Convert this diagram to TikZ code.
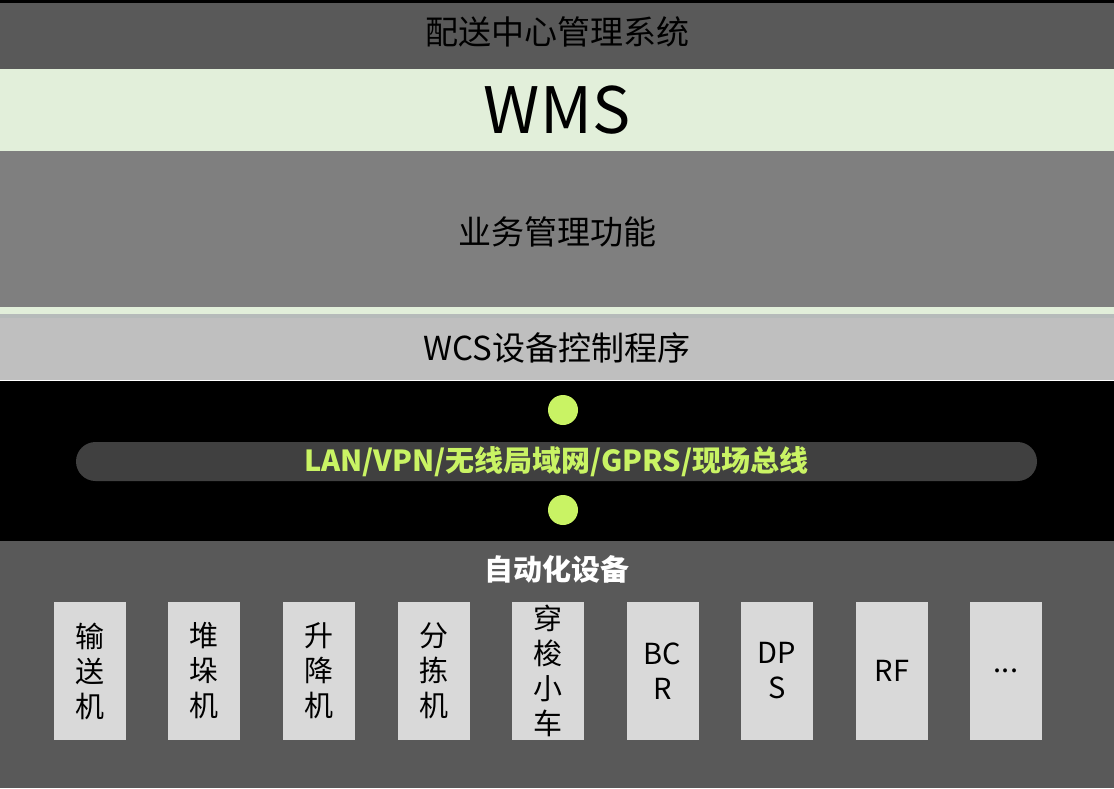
\documentclass[tikz,border=0pt]{standalone}
\usepackage{fontspec}
\setmainfont{Noto Sans CJK SC}
\usetikzlibrary{positioning}

\definecolor{darkband}{HTML}{595959}
\definecolor{wmsgreen}{HTML}{E2EFDA}
\definecolor{midband}{HTML}{7F7F7F}
\definecolor{seamgray}{HTML}{B6BBBA}
\definecolor{wcsgray}{HTML}{BFBFBF}
\definecolor{busgray}{HTML}{404040}
\definecolor{limegreen}{HTML}{C9F364}
\definecolor{boxgray}{HTML}{D9D9D9}

\tikzset{
  layertext/.style={font=\fontsize{33}{40}\selectfont, inner sep=0},
  device/.style={fill=boxgray, minimum width=72pt, minimum height=138pt, inner sep=0,
    align=center, font=\fontsize{29}{35}\selectfont},
  busdot/.style={circle, fill=limegreen, minimum size=30pt, inner sep=0},
}

\begin{document}
\begin{tikzpicture}[x=1pt,y=-1pt]
 \useasboundingbox (0,0) rectangle (1114,788);
 \fill[black] (0,0) rectangle (1114,788);

    % draw layers
    \fill[darkband] (0,3) rectangle (1114,69);
    \fill[wmsgreen] (0,69) rectangle (1114,151);
    \fill[midband] (0,151) rectangle (1114,307);
    \fill[wmsgreen] (0,307) rectangle (1114,314);
    \fill[seamgray] (0,314) rectangle (1114,318);
    \fill[wcsgray] (0,318) rectangle (1114,380);
    \fill[white] (0,380) rectangle (1114,381);
    \fill[darkband] (0,541) rectangle (1114,788);

    \node[layertext] (dcms) at (557,32) {配送中心管理系统};
    \node[layertext, font=\fontsize{64}{72}\selectfont] (wms) at (557,110) {WMS};
    \node[layertext] (business) at (557,232) {业务管理功能};
    \node[layertext] (wcs) at (557,348) {WCS设备控制程序};

    % draw network bus
    \node[busdot] (dotup) at (563,410) {};
    \node[fill=busgray, rounded corners=19.5pt, minimum width=961pt, minimum height=39pt,
      inner sep=0, text=limegreen, font=\bfseries\fontsize{29}{32}\selectfont]
      (bus) at (556.5,461.5) {LAN/VPN/无线局域网/GPRS/现场总线};
    \node[busdot] (dotdown) at (563,510) {};

    % draw devices
    \node[white, inner sep=0, font=\bfseries\fontsize{29}{34}\selectfont] (auto) at (557,569) {自动化设备};
    \node[device] (conveyor) at (90,671) {输\\送\\机};
    \node[device] (stacker) at (204,671) {堆\\垛\\机};
    \node[device] (lift) at (319,671) {升\\降\\机};
    \node[device] (sorter) at (433.5,671) {分\\拣\\机};
    \node[device] (shuttle) at (548,671) {穿\\梭\\小\\车};
    \node[device] (bcr) at (662.5,671) {BC\\R};
    \node[device] (dps) at (777,671) {DP\\S};
    \node[device] (rf) at (892,671) {RF};
    \node[device] (more) at (1006,671) {...};
\end{tikzpicture}
\end{document}
